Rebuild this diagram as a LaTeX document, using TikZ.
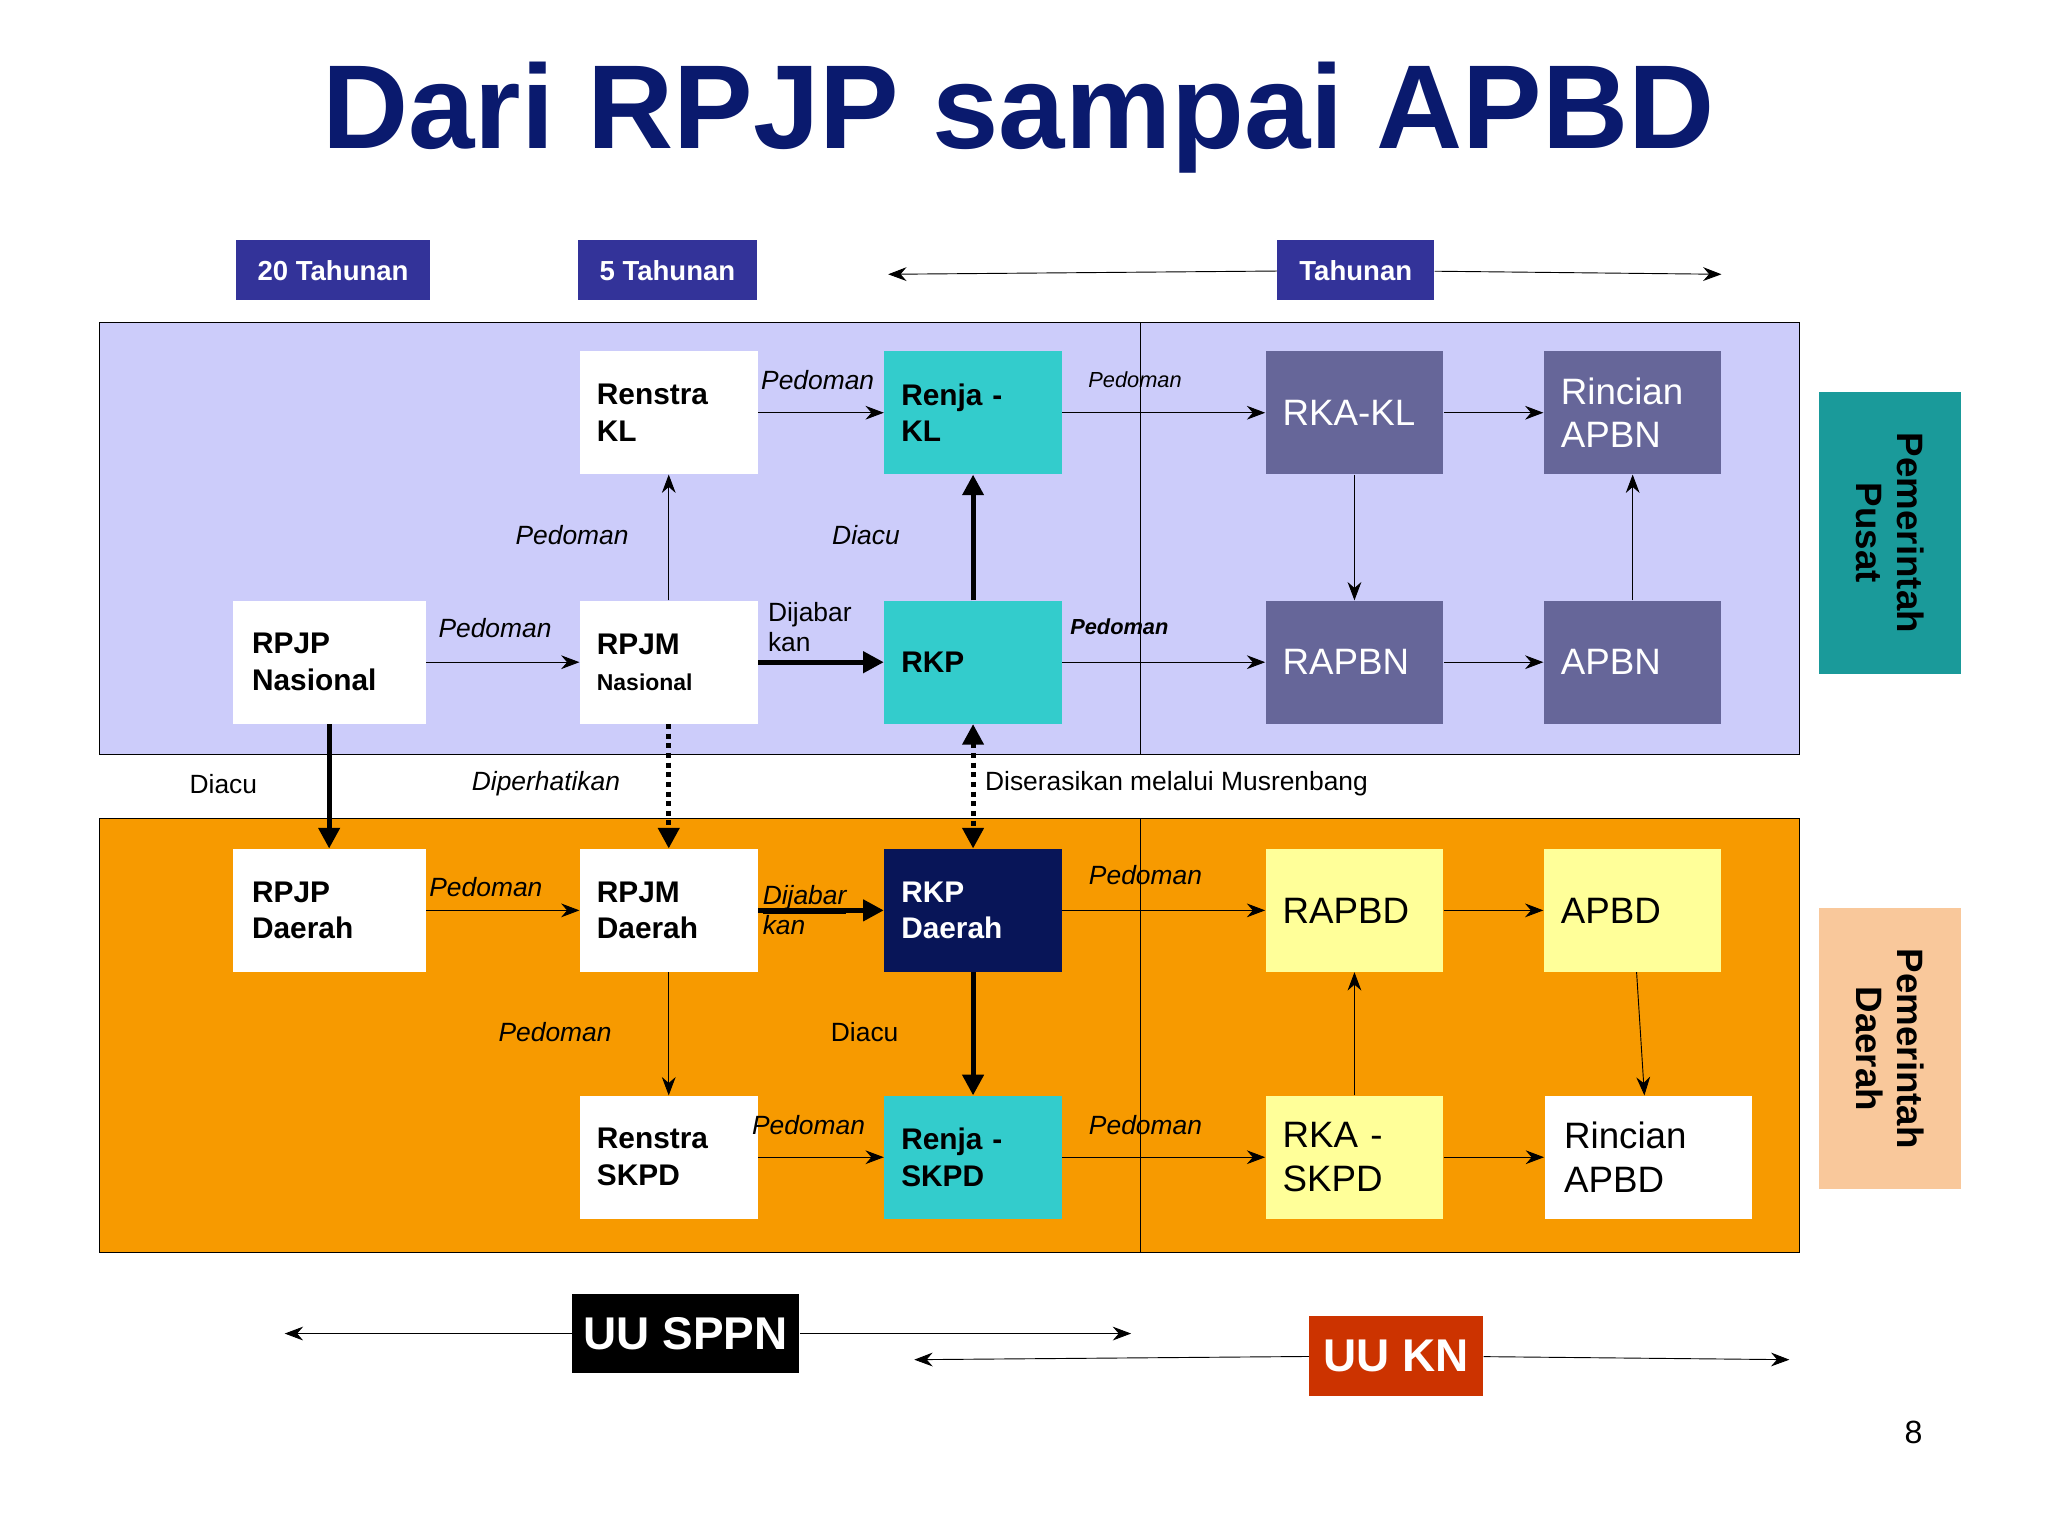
\documentclass[tikz,border=0pt]{standalone}
\usepackage{fontspec}
\setmainfont{Liberation Sans}
\usetikzlibrary{positioning, arrows.meta}
\definecolor{navyhead}{HTML}{333399}
\definecolor{lavender}{HTML}{CCCCFA}
\definecolor{orangebg}{HTML}{F79A00}
\definecolor{tealbox}{HTML}{33CCCC}
\definecolor{purplebox}{HTML}{666699}
\definecolor{yellowbox}{HTML}{FFFF99}
\definecolor{pusat}{HTML}{1A9A9A}
\definecolor{daerah}{HTML}{F9C89B}
\definecolor{titleblue}{HTML}{0A1A6E}
\definecolor{kn}{HTML}{CC3300}
\tikzset{
box/.style={minimum width=2.72cm, minimum height=1.88cm, text width=2.2cm, align=left, inner sep=0pt, font=\bfseries\fontsize{13}{16}\selectfont},
plain/.style={box, font=\fontsize{16}{19}\selectfont},
head/.style={fill=navyhead, text=white, font=\bfseries\fontsize{12}{14}\selectfont, minimum height=0.92cm, inner sep=0pt},
lbl/.style={font=\itshape\fontsize{11.5}{13}\selectfont},
arr/.style={-{Stealth[length=8pt]}, thin},
thick arr/.style={-{Triangle[length=9pt,width=9pt]}, line width=2.2pt},
}
\begin{document}
\begin{tikzpicture}[x=0.02cm, y=-0.02cm]
    \useasboundingbox (0,0) rectangle (1568,1176);

    %title
    \node[text=titleblue, font=\bfseries\fontsize{52}{60}\selectfont] (title) at (780,90) {Dari RPJP sampai APBD};

    %time headers
    \node[head, minimum width=2.98cm] (h20) at (255,207) {20 Tahunan};
    \node[head, minimum width=2.74cm] (h5) at (511,207) {5 Tahunan};
    \node[head, minimum width=2.4cm] (h1) at (1038,207) {Tahunan};
    \coordinate (h1l) at (680,210);
    \coordinate (h1r) at (1318,210);
    \draw[arr] (h1) -- (h1l);
    \draw[arr] (h1) -- (h1r);

    %regions
    \fill[lavender] (76,247) rectangle (1378,578);
    \fill[orangebg] (76,627) rectangle (1378,959);
    \draw (76,247) rectangle (1378,578);
    \draw (76,627) rectangle (1378,959);
    \draw (873,247) -- (873,578);
    \draw (873,627) -- (873,959);

    %nodes pusat
    \node[box, fill=white]      (renstrakl) at (512,316) {Renstra\\KL};
    \node[box, fill=tealbox]    (renjakl) at (745,316) {Renja -\\KL};
    \node[plain, fill=purplebox, text=white] (rkakl) at (1037,316) {RKA-KL};
    \node[plain, fill=purplebox, text=white] (rincianapbn) at (1250,316) {Rincian\\APBN};
    \node[box, fill=white, minimum width=2.96cm, text width=2.36cm] (rpjpnas) at (252,507) {RPJP\\Nasional};
    \node[box, fill=white]      (rpjmnas) at (512,507) {RPJM\\{\fontsize{10}{12}\selectfont Nasional}};
    \node[box, fill=tealbox]    (rkp) at (745,507) {RKP};
    \node[plain, fill=purplebox, text=white] (rapbn) at (1037,507) {RAPBN};
    \node[plain, fill=purplebox, text=white] (apbn) at (1250,507) {APBN};

    %nodes daerah
    \node[box, fill=white, minimum width=2.96cm, text width=2.36cm] (rpjpd) at (252,697) {RPJP\\Daerah};
    \node[box, fill=white]      (rpjmd) at (512,697) {RPJM\\Daerah};
    \node[box, fill=titleblue!80!black, text=white] (rkpd) at (745,697) {RKP\\Daerah};
    \node[plain, fill=yellowbox] (rapbd) at (1037,697) {RAPBD};
    \node[plain, fill=yellowbox] (apbd) at (1250,697) {APBD};
    \node[box, fill=white]      (renstraskpd) at (512,886) {Renstra\\SKPD};
    \node[box, fill=tealbox]    (renjaskpd) at (745,886) {Renja -\\SKPD};
    \node[plain, fill=yellowbox] (rkaskpd) at (1037,886) {RKA -\\SKPD};
    \node[plain, fill=white, minimum width=3.18cm, text width=2.58cm] (rincianapbd) at (1262,886) {Rincian\\APBD};

    %side labels
    \node[fill=pusat, minimum width=4.32cm, minimum height=2.18cm, rotate=-90, align=center, font=\bfseries\fontsize{16}{18}\selectfont] (pusat) at (1447,408) {Pemerintah\\Pusat};
    \node[fill=daerah, minimum width=4.3cm, minimum height=2.18cm, rotate=-90, align=center, font=\bfseries\fontsize{16}{18}\selectfont] (daerah) at (1447,803) {Pemerintah\\Daerah};

    %connectors pusat
    \draw[arr] (renstrakl) -- (renjakl);
    \draw[arr] (renjakl) -- (rkakl);
    \draw[arr] (rkakl) -- (rincianapbn);
    \draw[arr] (rkakl) -- (rapbn);
    \draw[arr] (apbn) -- (rincianapbn);
    \draw[arr] (rpjmnas) -- (renstrakl);
    \draw[thick arr] (rkp) -- (renjakl);
    \draw[arr] (rpjpnas) -- (rpjmnas);
    \draw[thick arr] (rpjmnas) -- (rkp);
    \draw[arr] (rkp) -- (rapbn);
    \draw[arr] (rapbn) -- (apbn);

    %connectors between
    \draw[thick arr] (rpjpnas) -- (rpjpd);
    \draw[thick arr, dotted] (rpjmnas) -- (rpjmd);
    \draw[thick arr, dotted, {Triangle[length=9pt,width=9pt]}-{Triangle[length=9pt,width=9pt]}] (rkp) -- (rkpd);

    %connectors daerah
    \draw[arr] (rpjpd) -- (rpjmd);
    \draw[thick arr] (rpjmd) -- (rkpd);
    \draw[arr] (rkpd) -- (rapbd);
    \draw[arr] (rapbd) -- (apbd);
    \draw[arr] (rpjmd) -- (renstraskpd);
    \draw[thick arr] (rkpd) -- (renjaskpd);
    \draw[arr] (renstraskpd) -- (renjaskpd);
    \draw[arr] (renjaskpd) -- (rkaskpd);
    \draw[arr] (rkaskpd) -- (rapbd);
    \draw[arr] (apbd) -- (rincianapbd);
    \draw[arr] (rkaskpd) -- (rincianapbd);

    %labels
    \node[lbl] (l1) at (626,291) {Pedoman};
    \node[lbl, font=\itshape\fontsize{9.5}{11}\selectfont] (l2) at (869,291) {Pedoman};
    \node[lbl] (l3) at (438,410) {Pedoman};
    \node[lbl] (l4) at (663,410) {Diacu};
    \node[lbl] (l5) at (379,481) {Pedoman};
    \node[align=left, font=\fontsize{11.5}{13}\selectfont] (l6) at (620,480) {Dijabar\\kan};
    \node[lbl, font=\bfseries\itshape\fontsize{9.5}{11}\selectfont] (l7) at (857,480) {Pedoman};
    \node[font=\fontsize{11.5}{13}\selectfont] (l8) at (171,600) {Diacu};
    \node[lbl] (l9) at (418,600) {Diperhatikan};
    \node[anchor=west, font=\fontsize{11.5}{13}\selectfont] (l10) at (748,600) {Diserasikan melalui Musrenbang};
    \node[lbl] (l11) at (372,679) {Pedoman};
    \node[lbl, align=left] (l12) at (616,697) {\underline{Dijabar}\\kan};
    \node[lbl] (l13) at (877,670) {Pedoman};
    \node[lbl] (l14) at (425,790) {Pedoman};
    \node[font=\fontsize{11.5}{13}\selectfont] (l15) at (662,790) {Diacu};
    \node[lbl] (l16) at (619,861) {Pedoman};
    \node[lbl] (l17) at (877,861) {Pedoman};

    %laws
    \node[fill=black, text=white, minimum width=3.48cm, minimum height=1.22cm, font=\bfseries\fontsize{20}{22}\selectfont] (sppn) at (525,1021) {UU SPPN};
    \coordinate (sppnl) at (218,1021);
    \coordinate (sppnr) at (866,1021);
    \draw[arr] (sppn) -- (sppnl);
    \draw[arr] (sppn) -- (sppnr);
    \node[fill=kn, text=white, minimum width=2.66cm, minimum height=1.22cm, font=\bfseries\fontsize{20}{22}\selectfont] (uukn) at (1069,1038) {UU KN};
    \coordinate (knl) at (700,1041);
    \coordinate (knr) at (1370,1041);
    \draw[arr] (uukn) -- (knl);
    \draw[arr] (uukn) -- (knr);

    \node[font=\fontsize{14}{16}\selectfont] (page) at (1465,1097) {8};
\end{tikzpicture}
\end{document}
